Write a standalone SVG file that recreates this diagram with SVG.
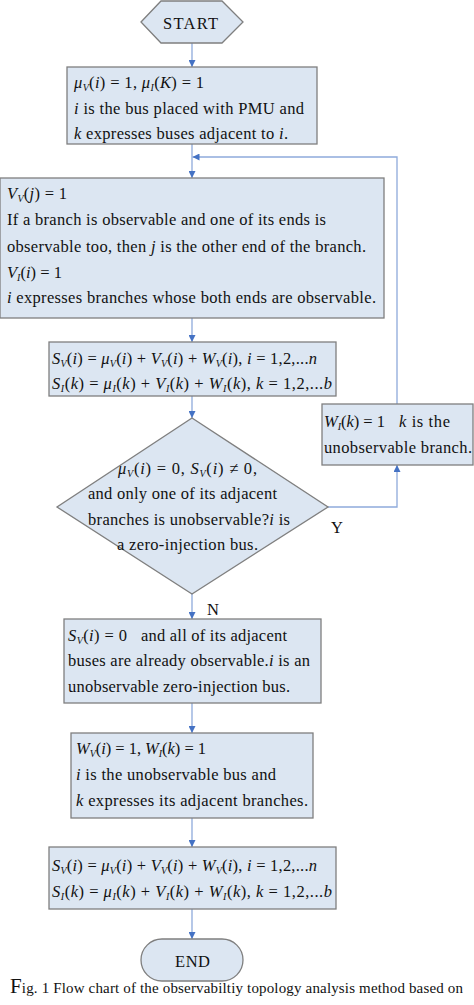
<svg xmlns="http://www.w3.org/2000/svg" width="474" height="1005" viewBox="0 0 474 1005">
<style>
.box{fill:#dce6f2;stroke:#7f7f7f;stroke-width:1.3}
.t{font-family:"Liberation Serif","Times New Roman",serif;font-size:16.5px;fill:#111}
.i{font-style:italic}
.s{font-style:italic;font-size:10px}
.c{fill:none;stroke:#8eaadb;stroke-width:1.3}
</style>
<defs>
<marker id="ah" viewBox="0 0 10 10" refX="10" refY="5" markerWidth="8" markerHeight="7" markerUnits="userSpaceOnUse" orient="auto">
<path d="M0,0 L10,5 L0,10 z" fill="#4472c4"/>
</marker>
</defs>
<rect x="0" y="0" width="474" height="1005" fill="#fff"/>
<g id="connectors">
<line class="c" x1="192" y1="43" x2="192" y2="67" marker-end="url(#ah)"/>
<line class="c" x1="192" y1="144" x2="192" y2="178" marker-end="url(#ah)"/>
<polyline class="c" points="397,404 397,157 192.5,157" marker-end="url(#ah)"/>
<line class="c" x1="192" y1="318" x2="192" y2="342" marker-end="url(#ah)"/>
<line class="c" x1="192" y1="396" x2="192" y2="418" marker-end="url(#ah)"/>
<polyline class="c" points="328,507 397,507 397,465" marker-end="url(#ah)"/>
<line class="c" x1="192" y1="594" x2="192" y2="619" marker-end="url(#ah)"/>
<line class="c" x1="192" y1="703" x2="192" y2="733" marker-end="url(#ah)"/>
<line class="c" x1="192" y1="818" x2="192" y2="847" marker-end="url(#ah)"/>
<line class="c" x1="192" y1="909" x2="192" y2="939" marker-end="url(#ah)"/>
<text class="t" x="331" y="533">Y</text>
<text class="t" x="207" y="615">N</text>
</g>
<g id="start">
<polygon class="box" points="141,22 161,1 222,1 243,22 222,43 161,43"/>
<text class="t" x="190.5" y="29" text-anchor="middle" textLength="55">START</text>
</g>
<g id="init">
<rect class="box" x="67" y="67" width="250" height="77"/>
<text class="t" x="74" y="88" textLength="130"><tspan class="i">μ</tspan><tspan class="s" dy="3">V</tspan><tspan dy="-3">(</tspan><tspan class="i">i</tspan>) = 1, <tspan class="i">μ</tspan><tspan class="s" dy="3">I</tspan><tspan dy="-3">(</tspan><tspan class="i">K</tspan>) = 1</text>
<text class="t" x="74" y="114" textLength="230"><tspan class="i">i</tspan> is the bus placed with PMU and</text>
<text class="t" x="74" y="139" textLength="214"><tspan class="i">k</tspan> expresses buses adjacent to <tspan class="i">i</tspan>.</text>
</g>
<g id="observe">
<rect class="box" x="0" y="178" width="384" height="140"/>
<text class="t" x="7" y="199" textLength="60"><tspan class="i">V</tspan><tspan class="s" dy="3">V</tspan><tspan dy="-3">(</tspan><tspan class="i">j</tspan>) = 1</text>
<text class="t" x="7" y="225" textLength="319">If a branch is observable and one of its ends is</text>
<text class="t" x="7" y="252" textLength="359">observable too, then <tspan class="i">j</tspan> is the other end of the branch.</text>
<text class="t" x="7" y="278" textLength="55"><tspan class="i">V</tspan><tspan class="s" dy="3">I</tspan><tspan dy="-3">(</tspan><tspan class="i">i</tspan>) = 1</text>
<text class="t" x="7" y="303" textLength="369"><tspan class="i">i</tspan> expresses branches whose both ends are observable.</text>
</g>
<g id="sum1">
<rect class="box" x="49" y="342" width="287" height="54"/>
<text class="t" x="52" y="364" textLength="265"><tspan class="i">S</tspan><tspan class="s" dy="3">V</tspan><tspan dy="-3">(</tspan><tspan class="i">i</tspan>) = <tspan class="i">μ</tspan><tspan class="s" dy="3">V</tspan><tspan dy="-3">(</tspan><tspan class="i">i</tspan>) + <tspan class="i">V</tspan><tspan class="s" dy="3">V</tspan><tspan dy="-3">(</tspan><tspan class="i">i</tspan>) + <tspan class="i">W</tspan><tspan class="s" dy="3">V</tspan><tspan dy="-3">(</tspan><tspan class="i">i</tspan>), <tspan class="i">i</tspan> = 1,2,...<tspan class="i">n</tspan></text>
<text class="t" x="52" y="389" textLength="280"><tspan class="i">S</tspan><tspan class="s" dy="3">I</tspan><tspan dy="-3">(</tspan><tspan class="i">k</tspan>) = <tspan class="i">μ</tspan><tspan class="s" dy="3">I</tspan><tspan dy="-3">(</tspan><tspan class="i">k</tspan>) + <tspan class="i">V</tspan><tspan class="s" dy="3">I</tspan><tspan dy="-3">(</tspan><tspan class="i">k</tspan>) + <tspan class="i">W</tspan><tspan class="s" dy="3">I</tspan><tspan dy="-3">(</tspan><tspan class="i">k</tspan>), <tspan class="i">k</tspan> = 1,2,...<tspan class="i">b</tspan></text>
</g>
<g id="wbranch">
<rect class="box" x="322" y="404" width="151" height="61"/>
<text class="t" x="324" y="427" textLength="61"><tspan class="i">W</tspan><tspan class="s" dy="3">I</tspan><tspan dy="-3">(</tspan><tspan class="i">k</tspan>) = 1</text>
<text class="t" x="399" y="427" textLength="51"><tspan class="i">k</tspan> is the</text>
<text class="t" x="324" y="453" textLength="148">unobservable branch.</text>
</g>
<g id="decision">
<polygon class="box" points="192,418 328,507 192,594 57,507"/>
<text class="t" x="187.5" y="474" text-anchor="middle" textLength="139"><tspan class="i">μ</tspan><tspan class="s" dy="3">V</tspan><tspan dy="-3">(</tspan><tspan class="i">i</tspan>) = 0, <tspan class="i">S</tspan><tspan class="s" dy="3">V</tspan><tspan dy="-3">(</tspan><tspan class="i">i</tspan>) ≠ 0,</text>
<text class="t" x="182.5" y="499" text-anchor="middle" textLength="189">and only one of its adjacent</text>
<text class="t" x="189" y="525" text-anchor="middle" textLength="202">branches is unobservable?<tspan class="i">i</tspan> is</text>
<text class="t" x="187.5" y="550" text-anchor="middle" textLength="141">a zero-injection bus.</text>
</g>
<g id="zero">
<rect class="box" x="64" y="619" width="257" height="84"/>
<text class="t" x="68" y="641" textLength="59"><tspan class="i">S</tspan><tspan class="s" dy="3">V</tspan><tspan dy="-3">(</tspan><tspan class="i">i</tspan>) = 0</text>
<text class="t" x="141" y="641" textLength="146">and all of its adjacent</text>
<text class="t" x="68" y="666" textLength="242">buses are already observable.<tspan class="i">i</tspan> is an</text>
<text class="t" x="68" y="692" textLength="222">unobservable zero-injection bus.</text>
</g>
<g id="wset">
<rect class="box" x="71" y="733" width="242" height="85"/>
<text class="t" x="76" y="754" textLength="130"><tspan class="i">W</tspan><tspan class="s" dy="3">V</tspan><tspan dy="-3">(</tspan><tspan class="i">i</tspan>) = 1, <tspan class="i">W</tspan><tspan class="s" dy="3">I</tspan><tspan dy="-3">(</tspan><tspan class="i">k</tspan>) = 1</text>
<text class="t" x="76" y="780" textLength="200"><tspan class="i">i</tspan> is the unobservable bus and</text>
<text class="t" x="76" y="806" textLength="232"><tspan class="i">k</tspan> expresses its adjacent branches.</text>
</g>
<g id="sum2">
<rect class="box" x="49" y="847" width="287" height="62"/>
<text class="t" x="52" y="871" textLength="265"><tspan class="i">S</tspan><tspan class="s" dy="3">V</tspan><tspan dy="-3">(</tspan><tspan class="i">i</tspan>) = <tspan class="i">μ</tspan><tspan class="s" dy="3">V</tspan><tspan dy="-3">(</tspan><tspan class="i">i</tspan>) + <tspan class="i">V</tspan><tspan class="s" dy="3">V</tspan><tspan dy="-3">(</tspan><tspan class="i">i</tspan>) + <tspan class="i">W</tspan><tspan class="s" dy="3">V</tspan><tspan dy="-3">(</tspan><tspan class="i">i</tspan>), <tspan class="i">i</tspan> = 1,2,...<tspan class="i">n</tspan></text>
<text class="t" x="52" y="897" textLength="280"><tspan class="i">S</tspan><tspan class="s" dy="3">I</tspan><tspan dy="-3">(</tspan><tspan class="i">k</tspan>) = <tspan class="i">μ</tspan><tspan class="s" dy="3">I</tspan><tspan dy="-3">(</tspan><tspan class="i">k</tspan>) + <tspan class="i">V</tspan><tspan class="s" dy="3">I</tspan><tspan dy="-3">(</tspan><tspan class="i">k</tspan>) + <tspan class="i">W</tspan><tspan class="s" dy="3">I</tspan><tspan dy="-3">(</tspan><tspan class="i">k</tspan>), <tspan class="i">k</tspan> = 1,2,...<tspan class="i">b</tspan></text>
</g>
<g id="end">
<rect class="box" x="141" y="939" width="102" height="42" rx="21" ry="21"/>
<text class="t" x="192.5" y="967" text-anchor="middle" textLength="35">END</text>
</g>
<text class="t" x="10" y="993" style="font-size:15px" textLength="453"><tspan style="font-size:21px">F</tspan>ig. 1 Flow chart of the observabiltiy topology analysis method based on</text>
</svg>
